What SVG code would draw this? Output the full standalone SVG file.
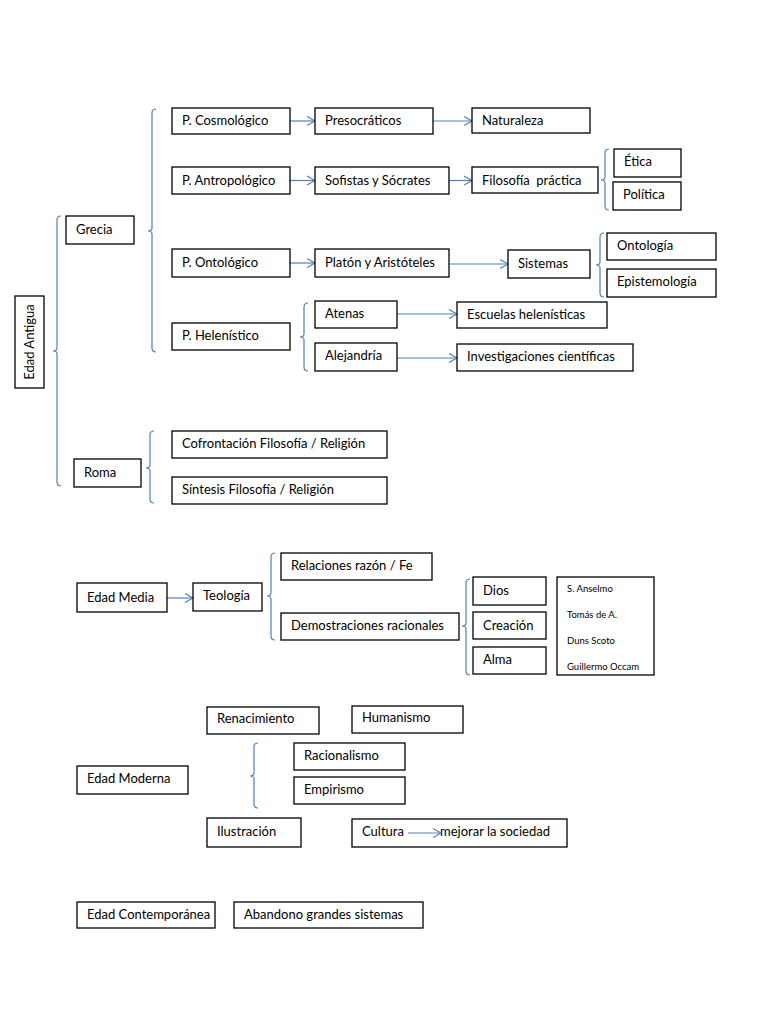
<svg xmlns="http://www.w3.org/2000/svg" width="768" height="1024" viewBox="0 0 768 1024">
<defs>
<marker id="ah" markerUnits="userSpaceOnUse" markerWidth="12" markerHeight="12" refX="9" refY="6" orient="auto">
<path d="M1,1.5 L9,6 L1,10.5" fill="none" stroke="#4f81bd" stroke-width="1.2"/>
</marker>
</defs>
<style>
.b{fill:#fff;stroke:#000;stroke-width:1.3}
.t{font-family:Lato,"Liberation Sans",sans-serif;font-size:13px;fill:#000}
.s{font-family:Lato,"Liberation Sans",sans-serif;font-size:9.5px;fill:#000}
.c{fill:none;stroke:#4f81bd;stroke-width:1.2}
</style>
<rect width="768" height="1024" fill="#fff"/>
<g id="connectors">
<path class="c" d="M61,216 Q57,216 57,220 V348 Q57,351 53,351 Q57,351 57,354 V482 Q57,486 61,486"/>
<path class="c" d="M156,109 Q152,109 152,113 V228 Q152,231 148,231 Q152,231 152,234 V348 Q152,352 156,352"/>
<path class="c" d="M609,149 Q605,149 605,153 V177 Q605,180 601,180 Q605,180 605,183 V206 Q605,210 609,210"/>
<path class="c" d="M604,233 Q600,233 600,237 V262 Q600,265 596,265 Q600,265 600,268 V293 Q600,297 604,297"/>
<path class="c" d="M308,303 Q304,303 304,307 V334 Q304,337 300,337 Q304,337 304,340 V367 Q304,371 308,371"/>
<path class="c" d="M154,431 Q150,431 150,435 V465 Q150,468 146,468 Q150,468 150,471 V499 Q150,503 154,503"/>
<path class="c" d="M275,553 Q271,553 271,557 V593 Q271,596 267,596 Q271,596 271,599 V636 Q271,640 275,640"/>
<path class="c" d="M470,579 Q466,579 466,583 V623 Q466,626 462,626 Q466,626 466,629 V671 Q466,675 470,675"/>
<path class="c" d="M258,743 Q254,743 254,747 V773 Q254,776 250,776 Q254,776 254,779 V804 Q254,808 258,808"/>
<line class="c" x1="290" y1="121" x2="315" y2="121" marker-end="url(#ah)"/>
<line class="c" x1="433" y1="121" x2="472" y2="121" marker-end="url(#ah)"/>
<line class="c" x1="290" y1="180.5" x2="315" y2="180.5" marker-end="url(#ah)"/>
<line class="c" x1="449" y1="180.5" x2="472" y2="180.5" marker-end="url(#ah)"/>
<line class="c" x1="290" y1="263" x2="315" y2="263" marker-end="url(#ah)"/>
<line class="c" x1="449" y1="264" x2="508" y2="264" marker-end="url(#ah)"/>
<line class="c" x1="397" y1="314" x2="457" y2="314" marker-end="url(#ah)"/>
<line class="c" x1="397" y1="358" x2="457" y2="358" marker-end="url(#ah)"/>
<line class="c" x1="167" y1="598" x2="193" y2="598" marker-end="url(#ah)"/>
</g>
<g id="edad-antigua"><rect class="b" x="15" y="296" width="29" height="92"/><text class="t" transform="translate(34,342) rotate(-90)" text-anchor="middle">Edad Antigua</text></g>
<g id="grecia"><rect class="b" x="66" y="216" width="68" height="28"/><text class="t" x="76" y="234">Grecia</text></g>
<g id="roma"><rect class="b" x="74" y="459" width="67" height="28"/><text class="t" x="84" y="477">Roma</text></g>
<g id="p-cosmologico"><rect class="b" x="172" y="108" width="118" height="26"/><text class="t" x="182" y="125">P. Cosmológico</text></g>
<g id="p-antropologico"><rect class="b" x="172" y="167" width="118" height="27"/><text class="t" x="182" y="185">P. Antropológico</text></g>
<g id="p-ontologico"><rect class="b" x="172" y="249" width="118" height="28"/><text class="t" x="182" y="267">P. Ontológico</text></g>
<g id="p-helenistico"><rect class="b" x="172" y="323" width="118" height="27"/><text class="t" x="182" y="340">P. Helenístico</text></g>
<g id="presocraticos"><rect class="b" x="315" y="108" width="118" height="26"/><text class="t" x="325" y="125">Presocráticos</text></g>
<g id="naturaleza"><rect class="b" x="472" y="108" width="118" height="25"/><text class="t" x="482" y="125">Naturaleza</text></g>
<g id="sofistas"><rect class="b" x="315" y="167" width="134" height="27"/><text class="t" x="325" y="185">Sofistas y Sócrates</text></g>
<g id="filosofia-practica"><rect class="b" x="472" y="167" width="126" height="26"/><text class="t" x="482" y="185" xml:space="preserve">Filosofía  práctica</text></g>
<g id="etica"><rect class="b" x="614" y="149" width="67" height="28"/><text class="t" x="624" y="166">Ética</text></g>
<g id="politica"><rect class="b" x="613" y="182" width="68" height="28"/><text class="t" x="623" y="199">Política</text></g>
<g id="platon"><rect class="b" x="315" y="249" width="134" height="28"/><text class="t" x="325" y="267">Platón y Aristóteles</text></g>
<g id="sistemas"><rect class="b" x="508" y="250" width="82" height="28"/><text class="t" x="518" y="268">Sistemas</text></g>
<g id="ontologia"><rect class="b" x="607" y="233" width="109" height="27"/><text class="t" x="617" y="250">Ontología</text></g>
<g id="epistemologia"><rect class="b" x="607" y="269" width="109" height="28"/><text class="t" x="617" y="286">Epistemología</text></g>
<g id="atenas"><rect class="b" x="315" y="301" width="82" height="27"/><text class="t" x="325" y="318">Atenas</text></g>
<g id="escuelas"><rect class="b" x="457" y="302" width="150" height="26"/><text class="t" x="467" y="319">Escuelas helenísticas</text></g>
<g id="alejandria"><rect class="b" x="315" y="343" width="82" height="28"/><text class="t" x="325" y="360">Alejandría</text></g>
<g id="investigaciones"><rect class="b" x="457" y="344" width="176" height="27"/><text class="t" x="467" y="361">Investigaciones científicas</text></g>
<g id="cofrontacion"><rect class="b" x="172" y="431" width="215" height="27"/><text class="t" x="182" y="448">Cofrontación Filosofía / Religión</text></g>
<g id="sintesis"><rect class="b" x="172" y="477" width="215" height="27"/><text class="t" x="182" y="494">Síntesis Filosofía / Religión</text></g>
<g id="edad-media"><rect class="b" x="77" y="583" width="90" height="29"/><text class="t" x="87" y="602">Edad Media</text></g>
<g id="teologia"><rect class="b" x="193" y="583" width="69" height="28"/><text class="t" x="203" y="600">Teología</text></g>
<g id="relaciones"><rect class="b" x="281" y="553" width="151" height="27"/><text class="t" x="291" y="570">Relaciones razón / Fe</text></g>
<g id="demostraciones"><rect class="b" x="281" y="613" width="178" height="27"/><text class="t" x="291" y="630">Demostraciones racionales</text></g>
<g id="dios"><rect class="b" x="473" y="577" width="73" height="28"/><text class="t" x="483" y="595">Dios</text></g>
<g id="creacion"><rect class="b" x="473" y="612" width="73" height="27"/><text class="t" x="483" y="630">Creación</text></g>
<g id="alma"><rect class="b" x="473" y="647" width="73" height="27"/><text class="t" x="483" y="664">Alma</text></g>
<g id="autores"><rect class="b" x="557" y="577" width="97" height="98"/><text class="s" x="567" y="592">S. Anselmo</text><text class="s" x="567" y="618">Tomás de A.</text><text class="s" x="567" y="644">Duns Scoto</text><text class="s" x="567" y="670">Guillermo Occam</text></g>
<g id="renacimiento"><rect class="b" x="207" y="707" width="112" height="27"/><text class="t" x="217" y="723">Renacimiento</text></g>
<g id="humanismo"><rect class="b" x="352" y="706" width="111" height="27"/><text class="t" x="362" y="722">Humanismo</text></g>
<g id="racionalismo"><rect class="b" x="294" y="743" width="111" height="27"/><text class="t" x="304" y="760">Racionalismo</text></g>
<g id="empirismo"><rect class="b" x="294" y="777" width="111" height="27"/><text class="t" x="304" y="794">Empirismo</text></g>
<g id="edad-moderna"><rect class="b" x="77" y="766" width="111" height="28"/><text class="t" x="87" y="783">Edad Moderna</text></g>
<g id="ilustracion"><rect class="b" x="207" y="818" width="94" height="29"/><text class="t" x="217" y="836">Ilustración</text></g>
<g id="cultura"><rect class="b" x="352" y="819" width="215" height="28"/><text class="t" x="362" y="836">Cultura</text><text class="t" x="440" y="836">mejorar la sociedad</text></g>
<g id="connector-cultura"><line class="c" x1="408" y1="833" x2="441" y2="833" marker-end="url(#ah)"/></g>
<g id="edad-contemporanea"><rect class="b" x="77" y="902" width="138" height="26"/><text class="t" x="87" y="919">Edad Contemporánea</text></g>
<g id="abandono"><rect class="b" x="234" y="902" width="189" height="26"/><text class="t" x="244" y="919">Abandono grandes sistemas</text></g>
</svg>
